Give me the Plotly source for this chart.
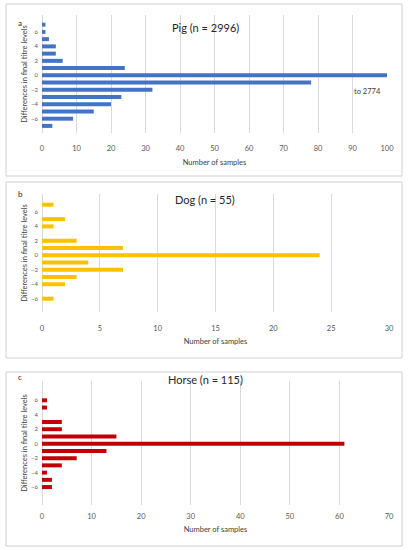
import plotly.graph_objects as go

# titre level differences (y categories)
diffs = [7, 6, 5, 4, 3, 2, 1, 0, -1, -2, -3, -4, -5, -6, -7]

pig_counts = [1, 1, 2, 4, 4, 6, 24, 2774, 78, 32, 23, 20, 15, 9, 3]
dog_counts = [1, 0, 2, 1, 0, 3, 7, 24, 4, 7, 3, 2, 0, 1, 0]
horse_counts = [0, 1, 1, 0, 4, 4, 15, 61, 13, 7, 4, 1, 2, 2, 0]

panel_titles = ["Pig (n = 2996)", "Dog (n = 55)", "Horse (n = 115)"]
panel_letters = ["a", "b", "c"]
bar_colors = ["#4472C4", "#FFC000", "#C00000"]
x_max = [100, 30, 70]
x_step = [10, 5, 10]
y_ticks = [-6, -4, -2, 0, 2, 4, 6]

W, H = 409, 550
FONT = "Lato, Open Sans, sans-serif"


def py(p):
    return 1 - p / H


# pixel layout of each panel: plot top, plot bottom, box top, box bottom, title y, label standoff
panels = [
    dict(top=15, bot=133, btop=4, bbot=176, ty=19, yr=[-7.98, 8.34], stand=9, tst=8, x1=387),
    dict(top=194, bot=312, btop=182, bbot=358, ty=199, yr=[-7.84, 8.48], stand=10, tst=7, x1=389),
    dict(top=381, bot=505, btop=372, bbot=546, ty=388, yr=[-8.48, 8.67], stand=5, tst=7, x1=389),
]

fig = go.Figure()
shapes = []
annotations = []

for i, counts in enumerate([pig_counts, dog_counts, horse_counts]):
    n = "" if i == 0 else str(i + 1)
    p = panels[i]
    fig.add_trace(go.Bar(
        x=counts, y=diffs, orientation="h",
        marker=dict(color=bar_colors[i], line_width=0),
        width=0.55, xaxis="x" + n, yaxis="y" + n, showlegend=False,
    ))
    fig.update_layout(**{
        "xaxis" + n: dict(
            domain=[42 / W, p["x1"] / W], anchor="y" + n, automargin=False,
            range=[0, x_max[i]], dtick=x_step[i], tick0=0,
            showgrid=True, gridcolor="#D9D9D9", gridwidth=1,
            zeroline=True, zerolinecolor="#D9D9D9", zerolinewidth=1,
            showline=False, ticks="", ticklabelstandoff=p["stand"],
            tickfont=dict(size=7.5, color="#595959", family=FONT),
            title=dict(text="Number of samples", standoff=p["tst"],
                       font=dict(size=7.5, color="#404040", family=FONT)),
        ),
        "yaxis" + n: dict(
            domain=[py(p["bot"]), py(p["top"])], anchor="x" + n, automargin=False,
            range=p["yr"], tickvals=y_ticks, showgrid=False,
            zeroline=False, showline=False, ticks="",
            ticklabelstandoff=3,
            tickfont=dict(size=6, color="#595959", family=FONT),
            title=dict(text="Differences in final titre levels", standoff=2,
                       font=dict(size=7.5, color="#404040", family=FONT)),
        ),
    })
    shapes.append(dict(type="rect", xref="paper", yref="paper",
                       x0=6 / W, x1=402 / W, y0=py(p["bbot"]), y1=py(p["btop"]),
                       line=dict(color="#D0D0D0", width=1), fillcolor="rgba(0,0,0,0)"))
    annotations.append(dict(text=panel_titles[i], xref="paper", yref="paper",
                            x=205 / W, y=py(p["ty"]), showarrow=False,
                            font=dict(size=11, color="#262626", family=FONT)))
    annotations.append(dict(text=panel_letters[i], xref="paper", yref="paper",
                            x=16 / W, y=py(p["btop"] + 12), showarrow=False,
                            font=dict(size=8, color="#262626", family=FONT)))

annotations.append(dict(text="to 2774", xref="paper", yref="paper",
                        x=383 / W, y=py(85), showarrow=False,
                        font=dict(size=7.5, color="#404040", family=FONT)))

fig.update_layout(
    width=W, height=H, margin=dict(l=0, r=0, t=0, b=0),
    paper_bgcolor="white", plot_bgcolor="white",
    bargap=0.45, shapes=shapes, annotations=annotations,
    font=dict(family=FONT),
)

fig.write_html("out.html", config={"displayModeBar": False},
               post_script="document.body.style.margin='0';")
